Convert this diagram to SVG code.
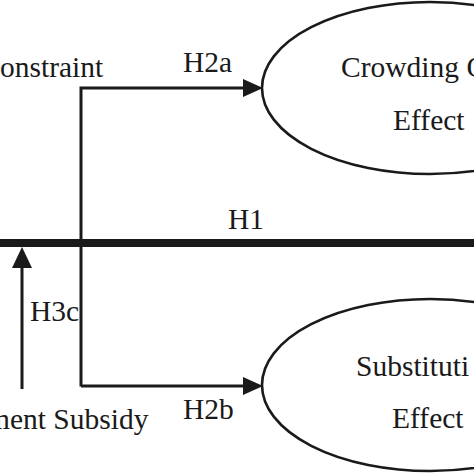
<svg xmlns="http://www.w3.org/2000/svg" width="474" height="474" viewBox="0 0 474 474">
<style>
text{font-family:"Liberation Serif","Times New Roman",serif;font-size:29.5px;fill:#1a1a1a}
.node{fill:#fff;stroke:#1a1a1a;stroke-width:2.6}
.ln{fill:none;stroke:#1a1a1a;stroke-width:3}
.ah{fill:#1a1a1a}
</style>
<rect width="474" height="474" fill="#fff"/>
<g id="connectors">
<path class="ln" d="M81,386.5 V88 H244"/>
<polygon class="ah" points="243,79 263,88 243,97"/>
<path class="ln" d="M81,386 H244"/>
<polygon class="ah" points="243,377 263,386 243,395"/>
<line x1="0" y1="243" x2="474" y2="243" stroke="#1a1a1a" stroke-width="8"/>
<line class="ln" x1="22" y1="389" x2="22" y2="265"/>
<polygon class="ah" points="12,268 22,247 32,268"/>
<text x="228" y="229">H1</text>
<text x="183" y="72">H2a</text>
<text x="183" y="419">H2b</text>
<text x="30" y="321">H3c</text>
</g>
<g id="constraint">
<text x="0" y="77">onstraint</text>
</g>
<g id="subsidy">
<text x="-13" y="429">ment Subsidy</text>
</g>
<g id="crowding">
<ellipse class="node" cx="430" cy="88" rx="168" ry="86"/>
<text x="341" y="77">Crowding O</text>
<text x="393" y="130">Effect</text>
</g>
<g id="substitution">
<ellipse class="node" cx="430" cy="385" rx="168" ry="86"/>
<text x="356" y="376">Substituti</text>
<text x="392" y="428">Effect</text>
</g>
</svg>
